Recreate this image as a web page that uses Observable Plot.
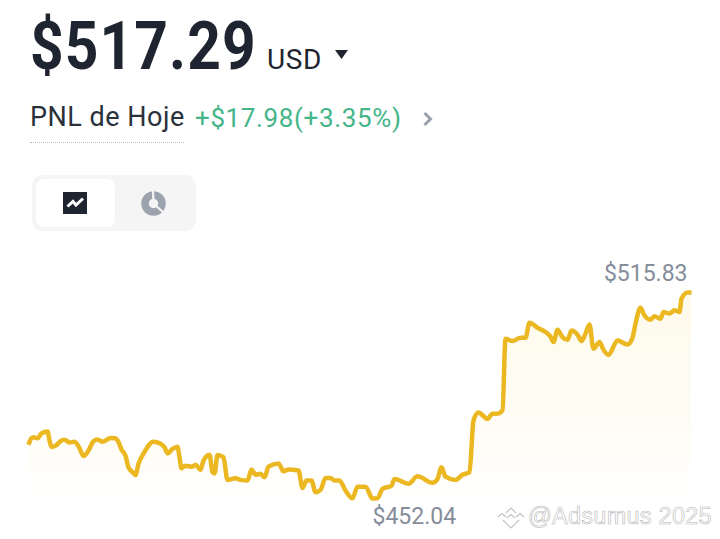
<!DOCTYPE html>
<html><head><meta charset="utf-8">
<script src="https://cdn.jsdelivr.net/npm/d3@7"></script>
<script src="https://cdn.jsdelivr.net/npm/@observablehq/plot@0.6"></script>
<style>
html,body{margin:0;padding:0;background:#fff;width:720px;height:539px;overflow:hidden;font-family:Roboto,sans-serif}
.a{position:absolute;white-space:nowrap;line-height:1}
#chart{position:absolute;left:0;top:250px}
#chart svg{display:block;background:transparent}
</style></head><body>
<div class="a" id="big" style="left:30px;top:14px;font-size:66px;font-weight:700;color:#1e2530;letter-spacing:1.2px;transform:scaleX(.89);transform-origin:0 0">$517.29</div>
<div class="a" style="left:267px;top:46px;font-size:28px;font-weight:400;color:#1e2530;letter-spacing:.6px">USD</div>
<svg class="a" style="left:335px;top:50px" width="14" height="10"><path d="M0 0H13L6.5 9Z" fill="#1e2530"/></svg>
<div class="a" style="left:30px;top:104px;font-size:27px;color:#2b3139;letter-spacing:.5px">PNL de Hoje</div>
<div class="a" style="left:30px;top:142px;width:154px;border-top:1px dotted #b7bdc6"></div>
<div class="a" style="left:195px;top:105px;font-size:26px;color:#45b58a;letter-spacing:.63px">+$17.98(+3.35%)</div>
<svg class="a" style="left:422px;top:111px" width="12" height="16"><path d="M2.5 2L8.5 8L2.5 14" fill="none" stroke="#9aa0ac" stroke-width="3"/></svg>
<div class="a" style="left:32px;top:175px;width:164px;height:56px;border-radius:11px;background:#f5f5f5"></div>
<div class="a" style="left:36px;top:179px;width:79px;height:48px;border-radius:8px;background:#fff"></div>
<svg class="a" style="left:63px;top:192px" width="24" height="22"><rect width="24" height="22" fill="#1e2530"/><path d="M4.5 14.5L10 9.5L13 13L20 6.5" fill="none" stroke="#fff" stroke-width="3"/></svg>
<svg class="a" style="left:140px;top:190px" width="27" height="27"><circle cx="13.5" cy="13.5" r="8.5" fill="none" stroke="#9ca3af" stroke-width="7.5"/><path d="M13.5 13.5L13 0M13.5 13.5L24 23" stroke="#f5f5f5" stroke-width="2.2" fill="none"/></svg>
<div id="chart"></div>
<svg class="a" style="left:496px;top:506px" width="30" height="24" fill="none" stroke="#c4c4c4" stroke-width="1.2"><path d="M2 11L6 7.5L10 11M10 7L15 2L20 7M20 11L24 7.5L28 11M7 14L15 22L23 14M11 12L15 8.5L19 12"/></svg>
<div class="a" style="left:528px;top:505px;font-family:'Liberation Sans',sans-serif;font-size:23.5px;color:#fff;-webkit-text-stroke:.6px #b8b8b8;letter-spacing:.25px">@Adsumus 2025</div>
<script>
const steps=[0,3,5,9,13,19,21,23,27,33,36,41,46,51,55,60,65,69,74,82,87,90,93,97,100,104,107,110,115,125,132,136,139,144,149,151,153,157,164,167,172,175,181,184,186,189,195,199,207,212,219,223,227,232,236,240,250,255,260,270,274,278,283,287,292,297,302,306,311,317,324,329,337,344,349,354,363,366,380,389,404,409,413,417,427,434,441,445,450,459,464,469,474,477,484,492,497,501,509,517,522,525,529,534,539,543,549,553,557,561,565,571,575,580,589,599,604,607,612,616,622,626,632,635,641,646,651,653,659,663];
const balance=[468.7,470.7,471.0,470.7,472.2,472.8,470.0,468.1,468.4,470.0,470.2,469.4,469.6,467.6,465.2,466.9,469.8,470.3,469.6,470.8,470.7,469.5,467.2,465.3,461.7,460.2,459.3,462.8,465.9,469.6,469.0,467.9,466.0,467.4,468.1,464.8,461.4,462.2,461.9,462.5,460.9,463.8,465.6,460.2,459.8,465.5,464.8,457.8,458.3,457.8,457.6,461.0,459.4,459.7,458.6,461.9,462.9,460.5,461.0,460.7,455.3,457.6,457.6,454.0,454.7,458.4,458.4,457.6,457.6,454.5,452.1,455.7,455.7,452.04,452.1,455.0,456.0,458.1,456.6,458.9,456.9,458.1,461.7,458.8,457.8,459.4,460.2,476.2,478.7,476.7,478.3,478.3,479.3,501.5,500.8,501.8,501.8,506.5,504.9,503.6,502.2,500.5,504.3,502.0,501.2,504.1,502.8,500.8,503.1,505.9,498.4,500.5,498.1,496.5,501.0,499.7,501.8,506.2,511.1,508.7,507.4,508.5,507.7,509.8,509.3,510.3,509.8,513.9,515.83,515.83];
const highLabel="$515.83", lowLabel="$452.04";
const rows=steps.map((s,i)=>({s,v:balance[i]}));
const hi=[rows[rows.length-2]], lo=[rows.find(r=>r.v===452.04)];
const gradient=()=>{
  const ns="http://www.w3.org/2000/svg";
  const g=document.createElementNS(ns,"g");
  g.innerHTML='<defs><linearGradient id="fade" x1="0" y1="0" x2="0" y2="1"><stop offset="0" stop-color="#fefaec"/><stop offset="0.6" stop-color="#fefcf4"/><stop offset="1" stop-color="#ffffff"/></linearGradient></defs>';
  return g;
};
const plot=Plot.plot({
  width:720,height:289,margin:0,
  x:{axis:null,domain:[0,663],range:[28,691]},
  y:{axis:null,domain:[452.04,515.83],range:[248,42]},
  marks:[
    gradient,
    Plot.areaY(rows,{x:"s",y1:450,y2:"v",fill:"url(#fade)",curve:"monotone-x"}),
    Plot.line(rows,{x:"s",y:"v",stroke:"#ebb821",strokeWidth:4.5,strokeLinejoin:"round",strokeLinecap:"butt",curve:"monotone-x"}),
    Plot.text(hi,{x:"s",y:"v",text:()=>highLabel,textAnchor:"end",dx:0,dy:-19,fontSize:23,fill:"#858d9b",fontFamily:"Roboto",letterSpacing:1}),
    Plot.text(lo,{x:"s",y:"v",text:()=>lowLabel,textAnchor:"start",dx:0,dy:18,fontSize:23,fill:"#858d9b",fontFamily:"Roboto",letterSpacing:1})
  ]
});
document.getElementById("chart").append(plot);
</script>
</body></html>
